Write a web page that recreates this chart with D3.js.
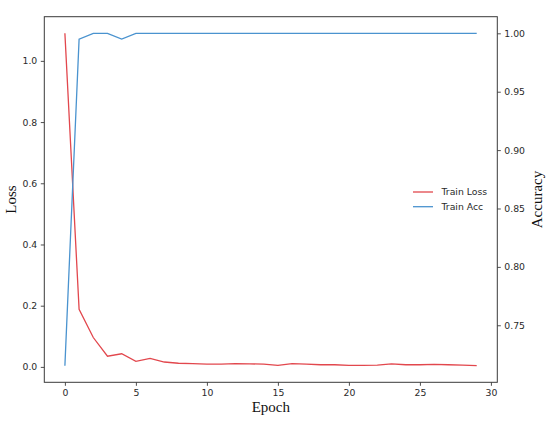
<!DOCTYPE html>
<html>
<head>
<meta charset="utf-8">
<script src="https://cdn.jsdelivr.net/npm/d3@7"></script>
<style>
  html, body { margin: 0; padding: 0; background: #fff; }
  svg { display: block; }
</style>
</head>
<body>
<svg id="chart" width="550" height="423"></svg>
<script>
const epochs = d3.range(0, 30);
const trainLoss = [1.09, 0.188, 0.096, 0.035, 0.043, 0.018, 0.028, 0.016, 0.012, 0.011,
                   0.009, 0.009, 0.011, 0.010, 0.009, 0.005, 0.011, 0.009, 0.007, 0.007,
                   0.005, 0.005, 0.006, 0.010, 0.007, 0.007, 0.008, 0.007, 0.006, 0.004];
const trainAcc = [0.7154, 0.995, 1.0, 1.0, 0.995, 1.0, 1.0, 1.0, 1.0, 1.0,
                  1.0, 1.0, 1.0, 1.0, 1.0, 1.0, 1.0, 1.0, 1.0, 1.0,
                  1.0, 1.0, 1.0, 1.0, 1.0, 1.0, 1.0, 1.0, 1.0, 1.0];
const xTicks = [0, 5, 10, 15, 20, 25, 30];
const lossTicks = [0.0, 0.2, 0.4, 0.6, 0.8, 1.0];
const accTicks = [0.75, 0.80, 0.85, 0.90, 0.95, 1.00];
const seriesNames = ["Train Loss", "Train Acc"];
const seriesColors = ["#e2474d", "#4a93cf"];

const svg = d3.select("#chart");
const L = 44.3, R = 497.3, T = 16.7, B = 382.3;

function padded(arr) {
  const [a, b] = d3.extent(arr);
  const m = (b - a) * 0.05;
  return [a - m, b + m];
}

const x = d3.scaleLinear().domain(padded(epochs)).range([L, R]);
const yL = d3.scaleLinear().domain(padded(trainLoss)).range([B, T]);
const yR = d3.scaleLinear().domain(padded(trainAcc)).range([B, T]);

const spine = "#3a3a3a";
const tickFont = "DejaVu Sans, sans-serif";
const tickSize = 9.3;

// lines
const lossLine = d3.line().x((d, i) => x(epochs[i])).y(d => yL(d));
const accLine = d3.line().x((d, i) => x(epochs[i])).y(d => yR(d));

svg.append("path").datum(trainLoss).attr("d", lossLine)
  .attr("fill", "none").attr("stroke", seriesColors[0]).attr("stroke-width", 1.3);
svg.append("path").datum(trainAcc).attr("d", accLine)
  .attr("fill", "none").attr("stroke", seriesColors[1]).attr("stroke-width", 1.3);

// axes
function styleAxis(g) {
  g.select(".domain").remove();
  g.selectAll(".tick line").attr("stroke", spine).attr("stroke-width", 0.9);
  g.selectAll(".tick text").attr("font-family", tickFont).attr("font-size", tickSize).attr("fill", "#2a2a2a");
}

svg.append("g").attr("transform", `translate(0,${B})`)
  .call(d3.axisBottom(x).tickValues(xTicks).tickSize(3.5).tickPadding(4).tickFormat(d3.format("d")))
  .call(styleAxis);

svg.append("g").attr("transform", `translate(${L},0)`)
  .call(d3.axisLeft(yL).tickValues(lossTicks).tickSize(3.5).tickPadding(3.5).tickFormat(d3.format(".1f")))
  .call(styleAxis);

svg.append("g").attr("transform", `translate(${R},0)`)
  .call(d3.axisRight(yR).tickValues(accTicks).tickSize(3.5).tickPadding(3.5).tickFormat(d3.format(".2f")))
  .call(styleAxis);

// frame
svg.append("rect").attr("x", L).attr("y", T).attr("width", R - L).attr("height", B - T)
  .attr("fill", "none").attr("stroke", spine).attr("stroke-width", 1);

// axis labels
const labelFont = "Liberation Serif, Times New Roman, serif";
svg.append("text").attr("x", (L + R) / 2).attr("y", 411.5)
  .attr("text-anchor", "middle").attr("font-family", labelFont).attr("font-size", 15)
  .attr("fill", "#111").text("Epoch");
svg.append("text").attr("transform", `translate(15.5,${(T + B) / 2}) rotate(-90)`)
  .attr("text-anchor", "middle").attr("font-family", labelFont).attr("font-size", 15)
  .attr("fill", "#111").text("Loss");
svg.append("text").attr("transform", `translate(541.5,${(T + B) / 2}) rotate(-90)`)
  .attr("text-anchor", "middle").attr("font-family", labelFont).attr("font-size", 15)
  .attr("fill", "#111").text("Accuracy");

// legend
const legendY = [192, 206.7];
seriesNames.forEach((name, i) => {
  svg.append("line").attr("x1", 413).attr("x2", 433).attr("y1", legendY[i]).attr("y2", legendY[i])
    .attr("stroke", seriesColors[i]).attr("stroke-width", 1.3);
  svg.append("text").attr("x", 441.5).attr("y", legendY[i]).attr("dy", "0.35em")
    .attr("font-family", tickFont).attr("font-size", tickSize).attr("fill", "#2a2a2a").text(name);
});
</script>
</body>
</html>
